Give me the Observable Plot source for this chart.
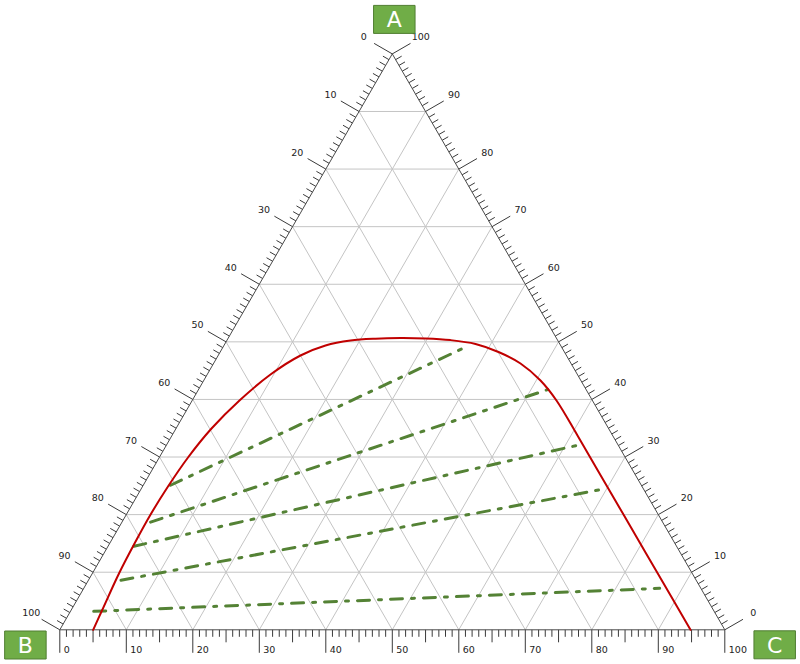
<!DOCTYPE html>
<html>
<head>
<meta charset="utf-8">
<script src="https://cdn.jsdelivr.net/npm/d3@7"></script>
<script src="https://cdn.jsdelivr.net/npm/@observablehq/plot@0.6"></script>
<style>
  html, body { margin: 0; padding: 0; background: #ffffff; }
  #chart { width: 800px; height: 664px; }
</style>
</head>
<body>
<div id="chart"></div>
<script>
// ---------- data (percent) ----------
const vertexNames = ["A", "B", "C"];
const gridValues = [10, 20, 30, 40, 50, 60, 70, 80, 90];
const tickLabels = [0, 10, 20, 30, 40, 50, 60, 70, 80, 90, 100];

// binodal curve (A %, C %), B = 100 - A - C
const binodalA = [0, 3.35, 9.78, 14.81, 19.85, 24.88, 29.92, 34.95, 39.82, 44.33, 47.63, 49.37, 50.23, 50.55, 50.65, 50.58, 50.30, 49.63, 48.24, 46.24, 43.29, 39.82, 33.83, 27.85, 19.92, 9.95, 0];
const binodalC = [5.02, 4.67, 4.01, 3.75, 3.64, 3.83, 4.32, 5.34, 7.11, 9.52, 12.38, 15.27, 18.6, 22.2, 25.91, 29.7, 33.6, 37.7, 41.85, 46.16, 50.64, 54.78, 60.89, 66.89, 74.85, 84.86, 94.84];

// tie lines: left (B-rich) and right (C-rich) ends
const tieLeftA  = [25.1, 18.7, 14.5, 8.6, 3.2];
const tieLeftC  = [4.1, 4.3, 3.9, 4.9, 3.5];
const tieRightA = [49.1, 41.7, 32.0, 24.3, 7.2];
const tieRightC = [36.5, 52.5, 61.7, 69.0, 86.6];

// ---------- helpers ----------
const S3 = Math.sqrt(3) / 2;
const X0 = 59.3, X1 = 724.3, Y0 = 629.3;
const PX = (X1 - X0) / 100;               // pixels per data unit
const tern = (A, C) => ({x: C + A / 2, y: A * S3});

// grid lines
const grid = [];
for (const k of gridValues) {
  let p = tern(k, 0), q = tern(k, 100 - k);              // A = k
  grid.push({x1: p.x, y1: p.y, x2: q.x, y2: q.y});
  p = tern(100 - k, 0); q = tern(0, 100 - k);             // B = k
  grid.push({x1: p.x, y1: p.y, x2: q.x, y2: q.y});
  p = tern(0, k); q = tern(100 - k, k);                   // C = k
  grid.push({x1: p.x, y1: p.y, x2: q.x, y2: q.y});
}

// outline
const outline = [tern(100, 0), tern(0, 0), tern(0, 100), tern(100, 0)];

// ticks
const ticks = [];
const dirL = [-S3, 0.5], dirR = [S3, 0.5], dirB = [0, -1];
for (let v = 0; v <= 100; v++) {
  const major = v % 10 === 0;
  const lenSide = (major ? 21 : 7) / PX;
  const lenBot = (major ? 23 : (v % 5 === 0 ? 12.5 : 7)) / PX;
  let p = tern(100 - v, 0);
  ticks.push({x1: p.x, y1: p.y, x2: p.x + dirL[0] * lenSide, y2: p.y + dirL[1] * lenSide});
  p = tern(v, 100 - v);
  ticks.push({x1: p.x, y1: p.y, x2: p.x + dirR[0] * lenSide, y2: p.y + dirR[1] * lenSide});
  p = tern(0, v);
  ticks.push({x1: p.x, y1: p.y, x2: p.x + dirB[0] * lenBot, y2: p.y + dirB[1] * lenBot});
}

const leftLabels = tickLabels.map(v => ({...tern(100 - v, 0), t: String(v)}));
const rightLabels = tickLabels.map(v => ({...tern(v, 100 - v), t: String(v)}));
const bottomLabels = tickLabels.map(v => ({...tern(0, v), t: String(v)}));

const binodal = binodalA.map((a, i) => tern(a, binodalC[i]));
const ties = [];
tieLeftA.forEach((a, i) => {
  ties.push({...tern(a, tieLeftC[i]), id: i});
  ties.push({...tern(tieRightA[i], tieRightC[i]), id: i});
});

const vA = [{...tern(100, 0), name: vertexNames[0]}];
const vB = [{...tern(0, 0), name: vertexNames[1]}];
const vC = [{...tern(0, 100), name: vertexNames[2]}];
const boxSymbol = {draw(ctx) { ctx.rect(-20.75, -14, 41.5, 28); }};
const font = "DejaVu Sans";
const vertexMarks = (data, dx, dy) => [
  Plot.dot(data, {x: "x", y: "y", dx, dy, symbol: boxSymbol, r: 5, fill: "#70ad47", stroke: "#507e32", strokeWidth: 1}),
  Plot.text(data, {x: "x", y: "y", dx, dy: dy + 1, text: "name", fontSize: 22, fill: "#ffffff", fontFamily: font})
];

const chart = Plot.plot({
  width: 800,
  height: 664,
  margin: 0,
  style: {fontFamily: font, background: "#ffffff"},
  x: {domain: [0, 100], range: [X0, X1], axis: null},
  y: {domain: [0, 100 * S3], range: [Y0, Y0 - (X1 - X0) * S3], axis: null},
  marks: [
    Plot.link(grid, {x1: "x1", y1: "y1", x2: "x2", y2: "y2", stroke: "#c4c4c4", strokeWidth: 1}),
    Plot.link(ticks, {x1: "x1", y1: "y1", x2: "x2", y2: "y2", stroke: "#3a3a3a", strokeWidth: 1}),
    Plot.line(outline, {x: "x", y: "y", stroke: "#4a4a4a", strokeWidth: 1}),
    Plot.line(ties, {x: "x", y: "y", z: "id", stroke: "#548235", strokeWidth: 3, strokeDasharray: "12,9,3,9"}),
    Plot.line(binodal, {x: "x", y: "y", stroke: "#c00000", strokeWidth: 2, curve: "catmull-rom"}),
    Plot.text(leftLabels, {x: "x", y: "y", text: "t", dx: -28.5, dy: -16.5, fontSize: 9.5, fill: "#222", fontFamily: font}),
    Plot.text(rightLabels, {x: "x", y: "y", text: "t", dx: 28.5, dy: -16.5, fontSize: 9.5, fill: "#222", fontFamily: font}),
    Plot.text(bottomLabels, {x: "x", y: "y", text: "t", dx: 4, dy: 20.5, textAnchor: "start", fontSize: 9.5, fill: "#222", fontFamily: font}),
    ...vertexMarks(vA, 2, -34.5),
    ...vertexMarks(vB, -34.4, 15.2),
    ...vertexMarks(vC, 49.9, 15)
  ]
});
document.getElementById("chart").appendChild(chart);
</script>
</body>
</html>
